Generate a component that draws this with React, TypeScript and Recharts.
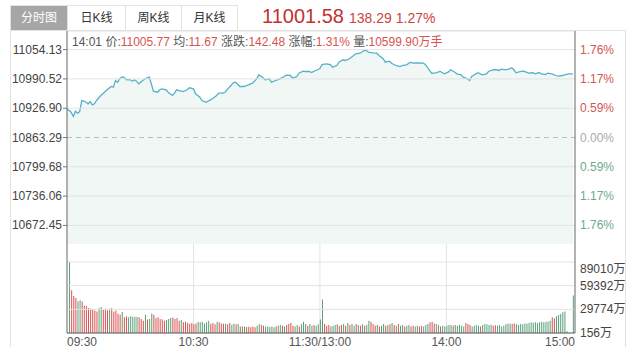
import React from 'react';
import { ComposedChart, Area, Bar, Line, Cell, XAxis, YAxis, CartesianGrid, ReferenceLine } from 'recharts';

// previous close and header figures
const prevClose = 10863.29;
const lastPrice = '11001.58';
const change = '138.29';
const changePct = '1.27%';

const tabs = ['分时图', '日K线', '周K线', '月K线'];
const tabWidths = [58, 58, 56, 56];

const infoLabels = ['价:', '均:', '涨跌:', '涨幅:', '量:'];
const infoValues = ['11005.77', '11.67', '142.48', '1.31%', '10599.90万手'];
const infoTime = '14:01';

// price axis
const priceTicks = [10672.45, 10736.06, 10799.68, 10863.29, 10926.9, 10990.52, 11054.13];
const pctLabels = ['1.76%', '1.17%', '0.59%', '0.00%', '0.59%', '1.17%', '1.76%'];
const priceDomain = [10632.1, 11094.5];

// minutes since 09:30 (lunch break removed) and price at that minute
const priceMinutes = [
  0, 2, 3, 4, 5, 6, 7, 8, 9, 10, 11, 12, 13, 14, 16, 17, 19, 21, 22, 23,
  24, 25, 26, 27, 28, 30, 31, 32, 33, 34, 36, 37, 39, 40, 41, 43, 44, 45, 47, 48,
  50, 51, 52, 54, 55, 57, 58, 60, 61, 63, 64, 66, 68, 69, 71, 72, 74, 75, 77, 79,
  80, 82, 84, 86, 88, 90, 91, 93, 94, 96, 97, 99, 101, 103, 104, 106, 107, 109, 110, 112,
  113, 115, 116, 118, 120, 121, 123, 125, 126, 128, 129, 131, 132, 134, 136, 137, 139, 141, 142, 143,
  145, 147, 148, 150, 151, 153, 154, 156, 158, 159, 161, 163, 164, 166, 169, 170, 172, 173, 175, 177,
  178, 179, 181, 182, 184, 185, 187, 188, 190, 191, 192, 194, 195, 197, 199, 200, 202, 203, 205, 206,
  208, 210, 211, 212, 213, 214, 216, 217, 219, 221, 222, 224, 225, 227, 228, 230, 232, 233, 235, 236,
  238, 239, 240,
];
const priceValues = [
  10925.6, 10918.2, 10908.9, 10920.4, 10916.1, 10919.7, 10943.6, 10942.1, 10939.9, 10936.5,
  10941.5, 10934.3, 10936.5, 10943.6, 10954.5, 10958.2, 10966.9, 10974.0, 10972.5, 10987.0,
  10983.4, 10990.7, 10994.2, 10994.2, 10989.2, 10988.6, 10985.5, 10988.6, 10985.5, 10979.9,
  10987.0, 10990.7, 10994.2, 10979.9, 10963.8, 10961.6, 10966.9, 10969.0, 10966.9, 10961.6,
  10954.5, 10959.5, 10966.9, 10963.8, 10963.2, 10966.9, 10971.2, 10969.0, 10958.2, 10950.8,
  10943.6, 10939.9, 10945.1, 10947.3, 10954.5, 10959.5, 10959.5, 10961.6, 10972.5, 10982.7,
  10983.4, 10974.0, 10974.0, 10977.7, 10981.2, 10990.7, 10999.4, 10992.9, 10988.6, 10990.7,
  10983.4, 10987.0, 10990.7, 10995.7, 10998.6, 10997.9, 10992.0, 10995.7, 11002.9, 11007.2,
  11006.6, 11006.6, 11004.4, 11008.8, 11013.1, 11021.8, 11023.3, 11021.8, 11015.9, 11019.6,
  11026.8, 11032.0, 11030.5, 11034.2, 11041.3, 11045.0, 11046.3, 11052.2, 11052.2, 11048.5,
  11047.2, 11046.3, 11041.3, 11034.2, 11026.8, 11028.9, 11024.6, 11019.6, 11017.4, 11019.6,
  11021.1, 11026.8, 11024.6, 11025.5, 11024.6, 11021.8, 11008.8, 11002.9, 11003.8, 11006.6,
  11004.4, 11001.6, 11005.8, 11010.3, 11005.1, 11001.6, 10999.4, 10994.2, 10990.7, 10987.0,
  10995.7, 11001.6, 11003.8, 10999.4, 11001.6, 11006.6, 11010.3, 11010.9, 11008.8, 11011.6,
  11010.3, 11012.4, 11014.6, 11010.3, 11003.8, 11005.1, 11007.2, 11006.6, 11002.9, 11003.8,
  11001.6, 11004.4, 11001.6, 11000.1, 11002.9, 11001.6, 10997.9, 10996.4, 10997.9, 10999.4,
  11001.6, 11001.6, 11001.58,
];

// per-minute volume (万), one bar per minute
const volumes = [
  89010, 53800, 46500, 44100, 39800, 41100, 39600, 34700, 33900, 31400,
  30500, 30500, 28400, 27100, 31400, 32600, 29600, 30500, 28400, 30500,
  31400, 27100, 28400, 24100, 22900, 26300, 20000, 21100, 20000, 21100,
  20600, 20600, 20600, 20000, 17700, 15600, 22900, 16900, 17700, 24100,
  22900, 18900, 20000, 17700, 16900, 15600, 16400, 17700, 18900, 19400,
  17700, 18900, 15600, 16400, 13500, 14300, 12700, 11800, 12700, 11000,
  12200, 14300, 13500, 14300, 12200, 13500, 15600, 11800, 12700, 11000,
  14300, 13500, 12200, 11800, 11800, 11000, 12700, 10600, 11800, 11000,
  11400, 8400, 8400, 8400, 7600, 8000, 7200, 8400, 7200, 9300,
  11400, 10100, 9300, 8000, 8400, 7600, 8400, 7200, 8400, 9300,
  10100, 9300, 8400, 10100, 11400, 12700, 9300, 8400, 10100, 8400,
  11400, 14300, 11400, 9300, 11400, 9300, 10100, 9300, 11000, 16900,
  42200, 11400, 9300, 10100, 8400, 9300, 10100, 11000, 9300, 10100,
  11400, 9300, 12700, 10100, 11400, 9300, 11400, 10100, 9300, 11000,
  9300, 10100, 15600, 14300, 11400, 9300, 10100, 8400, 9300, 11400,
  9300, 10100, 11000, 12700, 10100, 9300, 11400, 9300, 10100, 8400,
  9300, 10100, 8400, 9300, 8400, 9300, 8400, 9300, 8400, 10100,
  11400, 13500, 14300, 12200, 11400, 10100, 8400, 9300, 8400, 9300,
  10100, 10100, 9300, 10100, 9300, 10100, 9300, 8400, 12700, 11400,
  10100, 8400, 9300, 10100, 9300, 8400, 10100, 11000, 11000, 10100,
  10500, 9300, 9700, 9300, 10100, 8400, 9300, 11000, 12200, 11800,
  11400, 12200, 11400, 10100, 11400, 11000, 12200, 11800, 12700, 13500,
  13100, 13500, 12700, 13500, 14300, 13500, 14300, 14300, 15600, 19800,
  18600, 21100, 22800, 24000, 26100, 27000, 2500, 156, 156, 47200,
];
// r = price up that minute, g = down
const volumeSide =
  'grrrggrrrr' + 'rrrrggrrrg' + 'rrrrrgrrgg' + 'gggrrrgrgg' + 'rrrrrrgggr' + 'rrrgrrrrrr' + 'rggggggrrr' + 'grrrgrrggr' +
  'grggrrrrrg' + 'grrgggggrg' + 'grgrrrrggr' + 'gggrggrggg' + 'grrrgggrgr' + 'grgrggrgrg' + 'rggrrrgrgg' + 'rgrgrgrggr' +
  'ggrrggrrgg' + 'grrrggrggg' + 'ggrgggggrr' + 'rggggrgggg' + 'grrggggggg' + 'rrgggggggg' + 'gggggggggr' + 'rggggggggg';

const volTicks = [156, 29774, 59392, 89010];
const volDomain = [156, 111540];

const timeTicks = [0, 60, 120, 180, 241];
const timeLabels = ['09:30', '10:30', '11:30/13:00', '14:00', '15:00'];
const timeDomain = [0, 241];
const gridMinutes = [60, 120, 180];

const priceData = priceMinutes.map((t, i) => ({ t, price: priceValues[i] }));
const volumeData = volumes.map((vol, i) => ({ t: i + 1, vol, side: volumeSide[i] }));

const RED = '#d9534f';
const GREEN = '#5a9e78';
const GRID = '#e3e3e3';

const LeftTick = (props: any) => {
  const { x, y, payload } = props;
  return (
    <text x={x} y={y} dy={4} textAnchor="end" fill="#444" fontSize={12}>
      {payload.value.toFixed(2)}
    </text>
  );
};

const PctTick = (props: any) => {
  const { x, y, payload } = props;
  const idx = priceTicks.indexOf(payload.value);
  const v = payload.value;
  const color = v > prevClose ? '#d0584f' : v < prevClose ? '#6ea98a' : '#aaa';
  return (
    <text x={x} y={y} dy={4} textAnchor="start" fill={color} fontSize={12}>
      {pctLabels[pctLabels.length - 1 - idx]}
    </text>
  );
};

const VolTick = (props: any) => {
  const { x, y, payload } = props;
  const top = payload.value === volTicks[volTicks.length - 1];
  return (
    <text x={x} y={y} dy={top ? 11 : 4} textAnchor="start" fill="#444" fontSize={12}>
      {payload.value}万
    </text>
  );
};

const TimeTick = (props: any) => {
  const { x, y, payload } = props;
  const idx = timeTicks.indexOf(payload.value);
  const anchor = idx === 0 ? 'start' : idx === timeTicks.length - 1 ? 'end' : 'middle';
  return (
    <text x={x} y={y} dy={9} textAnchor={anchor} fill="#555" fontSize={12}>
      {timeLabels[idx]}
    </text>
  );
};

export default function App() {
  const priceGrid = [...priceTicks.filter((v) => v !== prevClose), priceDomain[1]];
  return (
    <div
      style={{
        position: 'absolute',
        left: 0,
        top: 0,
        width: 640,
        height: 357,
        background: '#fff',
        fontFamily: "'Liberation Sans', 'Noto Sans CJK SC', sans-serif",
        overflow: 'hidden',
      }}
    >
      {/* outer frame */}
      <div
        style={{
          position: 'absolute',
          left: 10,
          top: 30,
          width: 614,
          height: 316,
          borderTop: '1px solid #e2e2e2',
          borderLeft: '1px solid #e2e2e2',
          borderRight: '1px solid #e2e2e2',
        }}
      />
      {/* tabs */}
      <div style={{ position: 'absolute', left: 10, top: 5, display: 'flex', height: 25 }}>
        {tabs.map((t, i) => (
          <div
            key={t}
            style={{
              width: tabWidths[i],
              height: 25,
              boxSizing: 'border-box',
              borderTop: '1px solid #e2e2e2',
              borderRight: '1px solid #e2e2e2',
              borderLeft: i === 0 ? '1px solid #e2e2e2' : 'none',
              background: i === 0 ? '#a6a6a6' : '#fff',
              color: i === 0 ? '#fff' : '#333',
              fontSize: 12,
              lineHeight: '24px',
              textAlign: 'center',
            }}
          >
            {t}
          </div>
        ))}
      </div>
      <div style={{ position: 'absolute', left: 262, top: 5, display: 'flex', alignItems: 'baseline', whiteSpace: 'nowrap' }}>
        <span style={{ fontSize: 20, color: '#c0332e' }}>{lastPrice}</span>
        <span style={{ fontSize: 14, color: '#cc4540', marginLeft: 5 }}>{change}</span>
        <span style={{ fontSize: 14, color: '#cc4540', marginLeft: 4 }}>{changePct}</span>
      </div>
      {/* info line */}
      <div style={{ position: 'absolute', left: 72, top: 35, fontSize: 12, lineHeight: '14px', whiteSpace: 'nowrap', color: '#555' }}>
        <span>{infoTime} </span>
        {infoLabels.map((l, i) => (
          <span key={l}>
            {l}
            <span style={{ color: '#d9534f' }}>{infoValues[i]}</span>
            {i < infoLabels.length - 1 ? ' ' : ''}
          </span>
        ))}
      </div>

      {/* price panel */}
      <div style={{ position: 'absolute', left: 0, top: 0 }}>
        <ComposedChart width={640} height={250} data={priceData} margin={{ top: 31, right: 10, bottom: 6, left: 10 }}>
          <CartesianGrid stroke={GRID} horizontal={false} verticalValues={gridMinutes} />
          <XAxis type="number" dataKey="t" domain={timeDomain} height={0} tick={false} tickLine={false} axisLine={{ stroke: '#555' }} />
          <YAxis
            domain={priceDomain}
            ticks={priceTicks}
            width={57}
            tick={<LeftTick />}
            tickSize={4}
            tickMargin={1}
            tickLine={{ stroke: '#777' }}
            axisLine={{ stroke: '#666' }}
          />
          <YAxis
            yAxisId="r"
            orientation="right"
            domain={priceDomain}
            ticks={priceTicks}
            width={55}
            tick={<PctTick />}
            tickSize={0}
            tickMargin={5}
            tickLine={false}
            axisLine={{ stroke: '#666' }}
          />
          <Area
            type="linear"
            dataKey="price"
            stroke="#55b2c7"
            strokeWidth={1.3}
            fill="#f1f7f4"
            fillOpacity={1}
            dot={false}
            activeDot={false}
            isAnimationActive={false}
          />
          <Line yAxisId="r" dataKey="price" stroke="none" dot={false} activeDot={false} isAnimationActive={false} />
          {priceGrid.map((v) => (
            <ReferenceLine key={'g' + v} y={v} stroke={GRID} strokeWidth={1} />
          ))}
          <ReferenceLine y={prevClose} stroke="#bbb" strokeDasharray="5 4" />
        </ComposedChart>
      </div>

      {/* volume panel */}
      <div style={{ position: 'absolute', left: 0, top: 244 }}>
        <ComposedChart width={640} height={113} data={volumeData} margin={{ top: 0, right: 10, bottom: 4, left: 10 }}>
          <CartesianGrid stroke={GRID} horizontal={false} verticalValues={gridMinutes} />
          <XAxis
            type="number"
            dataKey="t"
            domain={timeDomain}
            ticks={timeTicks}
            tick={<TimeTick />}
            tickLine={false}
            tickSize={4}
            tickMargin={0}
            height={20}
            axisLine={{ stroke: '#555' }}
          />
          <YAxis domain={volDomain} width={57} tick={false} tickLine={false} axisLine={{ stroke: '#666' }} />
          <YAxis
            yAxisId="r"
            orientation="right"
            domain={volDomain}
            ticks={volTicks}
            width={55}
            tick={<VolTick />}
            tickSize={0}
            tickMargin={5}
            tickLine={false}
            axisLine={{ stroke: '#666' }}
          />
          {volTicks.slice(1).map((v) => (
            <ReferenceLine key={'v' + v} y={v} stroke={GRID} strokeWidth={1} />
          ))}
          <Bar dataKey="vol" barSize={1} isAnimationActive={false}>
            {volumeData.map((d, i) => (
              <Cell key={i} fill={d.side === 'r' ? RED : GREEN} />
            ))}
          </Bar>
          <Line yAxisId="r" dataKey="vol" stroke="none" dot={false} activeDot={false} isAnimationActive={false} />
        </ComposedChart>
      </div>
    </div>
  );
}
